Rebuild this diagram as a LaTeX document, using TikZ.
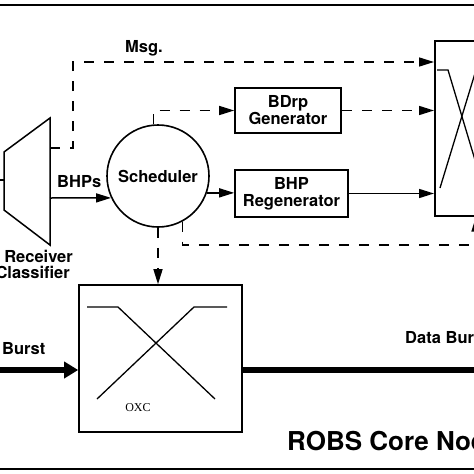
\documentclass[tikz,border=0pt]{standalone}
\usepackage{fontspec}
\setmainfont{TeX Gyre Heros}
\newfontfamily\serifoxc{Liberation Serif}
\usetikzlibrary{arrows.meta}
\begin{document}
\begin{tikzpicture}[x=1pt,y=-1pt,
  lbl/.style={font=\fontsize{16.5}{17}\selectfont\bfseries, inner sep=0pt},
  box/.style={draw, line width=1.6pt, align=center, inner sep=0pt, font=\fontsize{16.5}{17}\selectfont\bfseries},
  ln/.style={line width=1.5pt},
  dsh/.style={line width=1.5pt, dash pattern=on 10pt off 10pt},
  arr/.style={-{Triangle[length=15pt,width=9pt]}},
  fat/.style={line width=6pt},
  xline/.style={line width=1.3pt}
]
\useasboundingbox (0,0) rectangle (474,474);
\clip (0,0) rectangle (474,474);

% frame lines
\coordinate (tl) at (0,5);
\coordinate (tr) at (474,5);
\coordinate (bl) at (0,469);
\coordinate (brr) at (474,469);
\draw[line width=2.5pt] (tl) -- (tr);
\draw[line width=2pt] (bl) -- (brr);

% nodes
\node[box, minimum width=106pt, minimum height=45pt] (bdrp) at (288,110.5) {BDrp\\Generator};
\node[box, minimum width=113pt, minimum height=47pt] (bhpr) at (291.5,193.5) {BHP\\Regenerator};
\node[draw, circle, line width=1.6pt, minimum size=102pt, inner sep=0pt, lbl] (sch) at (158,176) {Scheduler};
\node[draw, line width=1.6pt, minimum width=163pt, minimum height=147pt, inner sep=0pt] (oxc) at (160.5,358.5) {};
\node[draw, line width=1.6pt, minimum width=100pt, minimum height=175pt, inner sep=0pt, anchor=north west] (sw) at (434,40) {};

% classifier trapezoid
\coordinate (c1) at (4,152);
\coordinate (c2) at (50,118);
\coordinate (c3) at (50,245);
\coordinate (c4) at (4,210);
\draw[ln] (c1) -- (c2) -- (c3) -- (c4) -- cycle;
\coordinate (cin) at (0,180);
\draw[ln] (cin) -- (cin -| c1);

% Msg path
\coordinate (cm) at (50,148);
\coordinate (mc) at (73,148);
\coordinate (mt) at (73,62);
\draw[dsh, arr] (cm) -- (mc) -- (mt) -- (mt -| sw.west);

% BHPs
\coordinate (cb) at (50,198);
\draw[ln, arr] (cb) -- (sch.205.5);

% scheduler -> BDrp
\draw[dsh, arr] (sch.95.6) |- (bdrp.west);
% BDrp -> switch
\draw[dsh, arr] (bdrp.east) -- (bdrp.east -| sw.west);
% scheduler -> BHP regenerator
\draw[ln, arr] (sch.-19.5) -- (sch.-19.5 -| bhpr.west);
% BHP regenerator -> switch
\draw[ln, arr] (bhpr.east) -- (bhpr.east -| sw.west);
% scheduler -> switch bottom
\coordinate (br) at (476,245);
\draw[dsh, arr] (sch.-62) |- (br) -- (br |- sw.south);
% scheduler -> OXC
\draw[dsh, arr] (sch.south) -- (sch.south |- oxc.north);

% data bursts
\coordinate (din) at (0,370);
\coordinate (dout) at (474,370);
\draw[fat, -{Triangle[length=14pt,width=16pt]}] (din) -- (din -| oxc.west);
\draw[fat] (oxc.east |- dout) -- (dout);

% OXC internals
\draw[xline] (87,307) -- (118,307) -- (215,399);
\draw[xline] (227,307) -- (194,307) -- (97,399);
% switch internals
\draw[xline] (437,70) -- (448,70) -- (487,200);
\draw[xline] (440,188) -- (476,70) -- (490,70);

% labels
\node[lbl, anchor=base west] (msg) at (125,52) {Msg.};
\node[lbl, anchor=base west] (bhps) at (57,187) {BHPs};
\node[lbl, anchor=base east] (rcv) at (73,262) {Receiver};
\node[lbl, anchor=base east] (cls) at (70,278) {Classifier};
\node[lbl, anchor=base west] (bin) at (2,354) {Burst};
\node[lbl, anchor=base west] (bout) at (405,343) {Data Burst};
\node[font=\fontsize{26}{28}\selectfont\bfseries, anchor=base west, inner sep=0pt] (title) at (287,450) {ROBS Core Node};
\node[font=\serifoxc\fontsize{12}{14}\selectfont, inner sep=0pt] (oxcl) at (138,408) {OXC};
\end{tikzpicture}
\end{document}
